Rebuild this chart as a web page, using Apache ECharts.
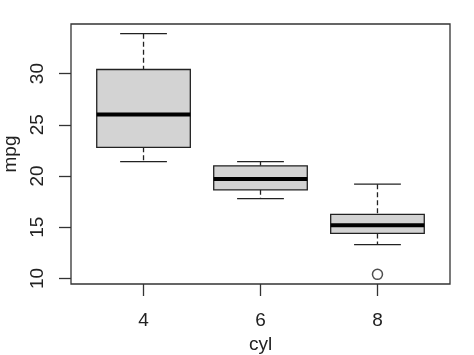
<!DOCTYPE html>
<html>
<head>
<meta charset="utf-8">
<script src="https://cdn.jsdelivr.net/npm/echarts@6/dist/echarts.min.js"></script>
<style>
  html, body { margin: 0; padding: 0; background: #fff; }
  #chart { width: 474px; height: 355px; }
</style>
</head>
<body>
<div id="chart"></div>
<script>
// mtcars: mpg by cyl (R boxplot stats)
const categories = ['4', '6', '8'];
const whiskerLow = [21.4, 17.8, 13.3];
const q1 = [22.8, 18.65, 14.4];
const median = [26.0, 19.7, 15.2];
const q3 = [30.4, 21.0, 16.25];
const whiskerHigh = [33.9, 21.4, 19.2];
const outlierCat = ['8'];
const outlierVal = [10.4];
const yTicks = [10, 15, 20, 25, 30];

const font = 'Liberation Sans, Arial, sans-serif';
const ink = '#222';

const boxData = categories.map((c, i) => [i + 1, whiskerLow[i], q1[i], median[i], q3[i], whiskerHigh[i]]);
const outData = outlierCat.map((c, i) => [categories.indexOf(c) + 1, outlierVal[i]]);

function renderBox(params, api) {
  const x = api.value(0);
  const half = api.size([0.8, 0])[0] / 2;
  const capHalf = half / 2;
  const [cx, yLo] = api.coord([x, api.value(1)]);
  const yQ1 = api.coord([x, api.value(2)])[1];
  const yMed = api.coord([x, api.value(3)])[1];
  const yQ3 = api.coord([x, api.value(4)])[1];
  const yHi = api.coord([x, api.value(5)])[1];
  const dashed = { stroke: ink, lineWidth: 1.3, lineDash: [5, 3] };
  const solid = { stroke: ink, lineWidth: 1.3 };
  return {
    type: 'group',
    children: [
      { type: 'line', shape: { x1: cx, y1: yHi, x2: cx, y2: yQ3 }, style: dashed },
      { type: 'line', shape: { x1: cx, y1: yQ1, x2: cx, y2: yLo }, style: dashed },
      { type: 'line', shape: { x1: cx - capHalf, y1: yHi, x2: cx + capHalf, y2: yHi }, style: solid },
      { type: 'line', shape: { x1: cx - capHalf, y1: yLo, x2: cx + capHalf, y2: yLo }, style: solid },
      { type: 'rect', shape: { x: cx - half, y: yQ3, width: half * 2, height: yQ1 - yQ3 },
        style: { fill: '#d3d3d3', stroke: ink, lineWidth: 1.3 } },
      { type: 'line', shape: { x1: cx - half, y1: yMed, x2: cx + half, y2: yMed },
        style: { stroke: '#000', lineWidth: 4 } }
    ]
  };
}

const chart = echarts.init(document.getElementById('chart'));
chart.setOption({
  animation: false,
  grid: {
    left: 71, top: 24, right: 24, bottom: 71,
    outerBoundsMode: 'none', containLabel: false,
    show: true, borderColor: '#333', borderWidth: 1.3, backgroundColor: 'transparent'
  },
  xAxis: {
    type: 'value', min: 0.38, max: 3.62,
    name: 'cyl', nameLocation: 'middle', nameGap: 50,
    nameTextStyle: { fontFamily: font, fontSize: 19, color: ink },
    axisLine: { show: false },
    splitLine: { show: false },
    axisTick: { show: true, length: 12, customValues: [1, 2, 3], lineStyle: { color: '#333', width: 1.3 } },
    axisLabel: {
      customValues: [1, 2, 3], margin: 27,
      formatter: v => categories[Math.round(v) - 1],
      fontFamily: font, fontSize: 19, color: ink
    }
  },
  yAxis: {
    type: 'value', min: 9.46, max: 34.84,
    name: 'mpg', nameLocation: 'middle', nameGap: 47, nameRotate: 90,
    nameTextStyle: { fontFamily: font, fontSize: 19, color: ink },
    axisLine: { show: false },
    splitLine: { show: false },
    axisTick: { show: true, length: 12, customValues: yTicks, lineStyle: { color: '#333', width: 1.3 } },
    axisLabel: {
      customValues: yTicks, rotate: 90, margin: 24,
      fontFamily: font, fontSize: 19, color: ink
    }
  },
  series: [
    { type: 'custom', renderItem: renderBox, data: boxData, encode: { x: 0, y: [1, 2, 3, 4, 5] } },
    {
      type: 'scatter', data: outData, symbol: 'circle', symbolSize: 10,
      itemStyle: { color: 'transparent', borderColor: ink, borderWidth: 1.5 }
    }
  ]
});
</script>
</body>
</html>
